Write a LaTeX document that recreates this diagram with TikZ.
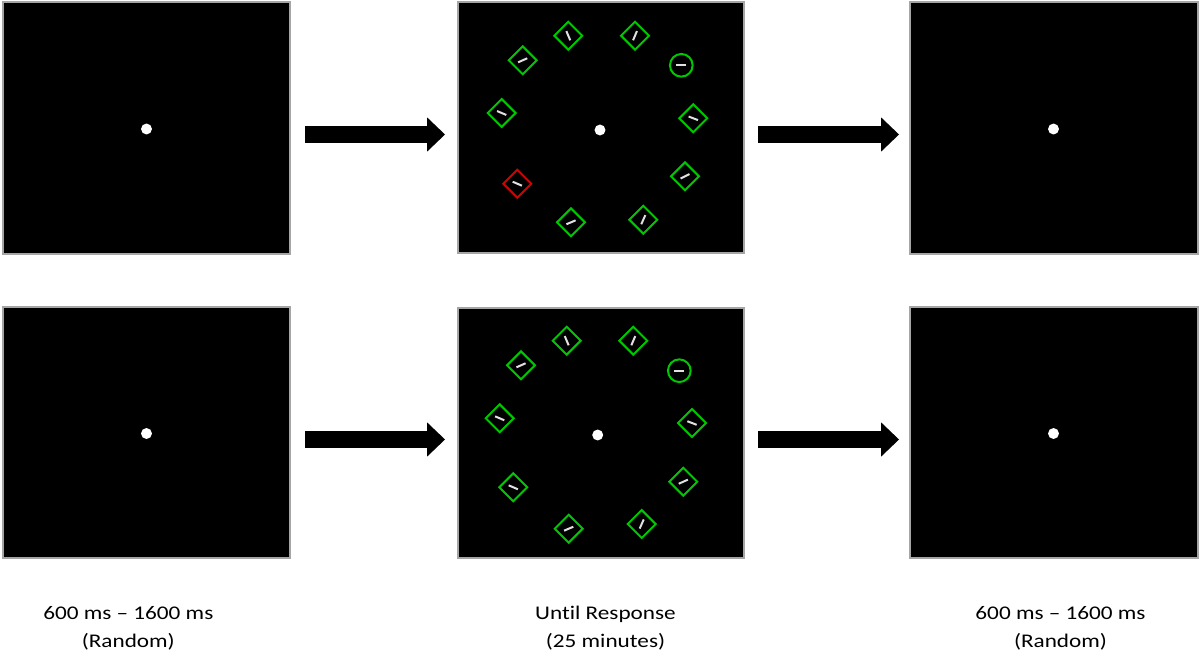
\documentclass[tikz,border=0pt]{standalone}
\usepackage{fontspec}
\setmainfont{Carlito}
\newfontfamily\lblfont{Carlito}[FakeStretch=1.2,Ligatures=NoCommon]
\usetikzlibrary{arrows.meta,fit}
\definecolor{stimgreen}{RGB}{0,200,0}
\definecolor{stimred}{RGB}{215,0,0}
\definecolor{bargray}{RGB}{225,225,225}
\definecolor{edgegray}{RGB}{165,165,165}
\begin{document}
\begin{tikzpicture}[x=0.75pt,y=-0.75pt,
  panel/.style={fill=black, draw=edgegray, line width=0.9pt, inner sep=0pt, outer sep=0pt},
  fix/.style={circle, fill=white, inner sep=0pt, minimum size=8.2pt},
  dia/.style={draw=stimgreen, line width=1.5pt, rotate=45, minimum size=14.8pt, inner sep=0pt},
  reddia/.style={dia, draw=stimred},
  ring/.style={circle, draw=stimgreen, line width=1.5pt, minimum size=17pt, inner sep=0pt},
  bar/.style={draw=bargray, line width=1.5pt},
  bigarrow/.style={line width=13pt, -{Triangle[length=13.5pt, width=25.8pt, line width=0pt]}},
  lbl/.style={font=\lblfont\fontsize{14.5}{21}\selectfont, inner sep=0pt, anchor=base}]

\useasboundingbox (0,0) rectangle (1200,654);
\fill[white] (0,0) rectangle (1200,654);

% panels
\node[panel, fit={(3,2) (290,254)}] (L1) {};
\node[panel, fit={(3,307) (290,558)}] (L2) {};
\node[panel, fit={(458,2) (744,253)}] (M1) {};
\node[panel, fit={(458,308) (744,558)}] (M2) {};
\node[panel, fit={(910,2) (1198,254)}] (R1) {};
\node[panel, fit={(910,307) (1198,558)}] (R2) {};

% fixation dots
\node[fix] (L1dot) at (146.5,129) {};
\node[fix] (L2dot) at (146.5,433.5) {};
\node[fix] (M1dot) at (600,130) {};
\node[fix] (M2dot) at (597.7,435) {};
\node[fix] (R1dot) at (1053.5,129) {};
\node[fix] (R2dot) at (1053.5,433.5) {};

% top search display
\foreach \n/\px/\py/\a in {1/568.3/35.7/-67, 2/635/35.7/67, 3/522.7/60.3/24,
    5/501.7/113/-23, 6/693.3/118.3/-21, 8/685/176.3/27, 9/571/222.3/23, 10/643.3/219.7/66} {
  \node[dia] (s\n) at (\px,\py) {};
  \draw[bar] (s\n.center) ++({-(\a)}:5) -- ++({180-(\a)}:10);
}
\node[ring] (s4) at (681.3,65.3) {};
\draw[bar] (s4.center) ++(0:5) -- ++(180:10);
\node[reddia] (s7) at (517.3,183.7) {};
\draw[bar] (s7.center) ++(23:5) -- ++(203:10);

% bottom search display
\foreach \n/\px/\py/\a in {1/566.7/340.7/-67, 2/633.3/340.7/67, 3/521/365.3/24,
    5/499.7/418.3/-23, 6/692/423/-21, 7/513.3/487.3/-23, 8/683.3/481.7/24,
    9/568.7/528.7/23, 10/641.7/524/66} {
  \node[dia] (t\n) at (\px,\py) {};
  \draw[bar] (t\n.center) ++({-(\a)}:5) -- ++({180-(\a)}:10);
}
\node[ring] (t4) at (679.3,370.7) {};
\draw[bar] (t4.center) ++(0:5) -- ++(180:10);

% arrows
\draw[bigarrow] ([shift={(15,6.5)}]L1.east) -- ([shift={(-13,7)}]M1.west);
\draw[bigarrow] ([shift={(14,7)}]M1.east) -- ([shift={(-11,6.5)}]R1.west);
\draw[bigarrow] ([shift={(15,7)}]L2.east) -- ([shift={(-13,6.5)}]M2.west);
\draw[bigarrow] ([shift={(14,6.5)}]M2.east) -- ([shift={(-11,7)}]R2.west);

% labels
\node[lbl] (tl1) at (128.3,619.3) {600 ms – 1600 ms};
\node[lbl] (tl2) at (128.3,647.3) {(Random)};
\node[lbl] (tm1) at (605.5,619.3) {Until Response};
\node[lbl] (tm2) at (605.5,647.3) {(25 minutes)};
\node[lbl] (tr1) at (1060.5,619.3) {600 ms – 1600 ms};
\node[lbl] (tr2) at (1060.5,647.3) {(Random)};
\end{tikzpicture}
\end{document}
